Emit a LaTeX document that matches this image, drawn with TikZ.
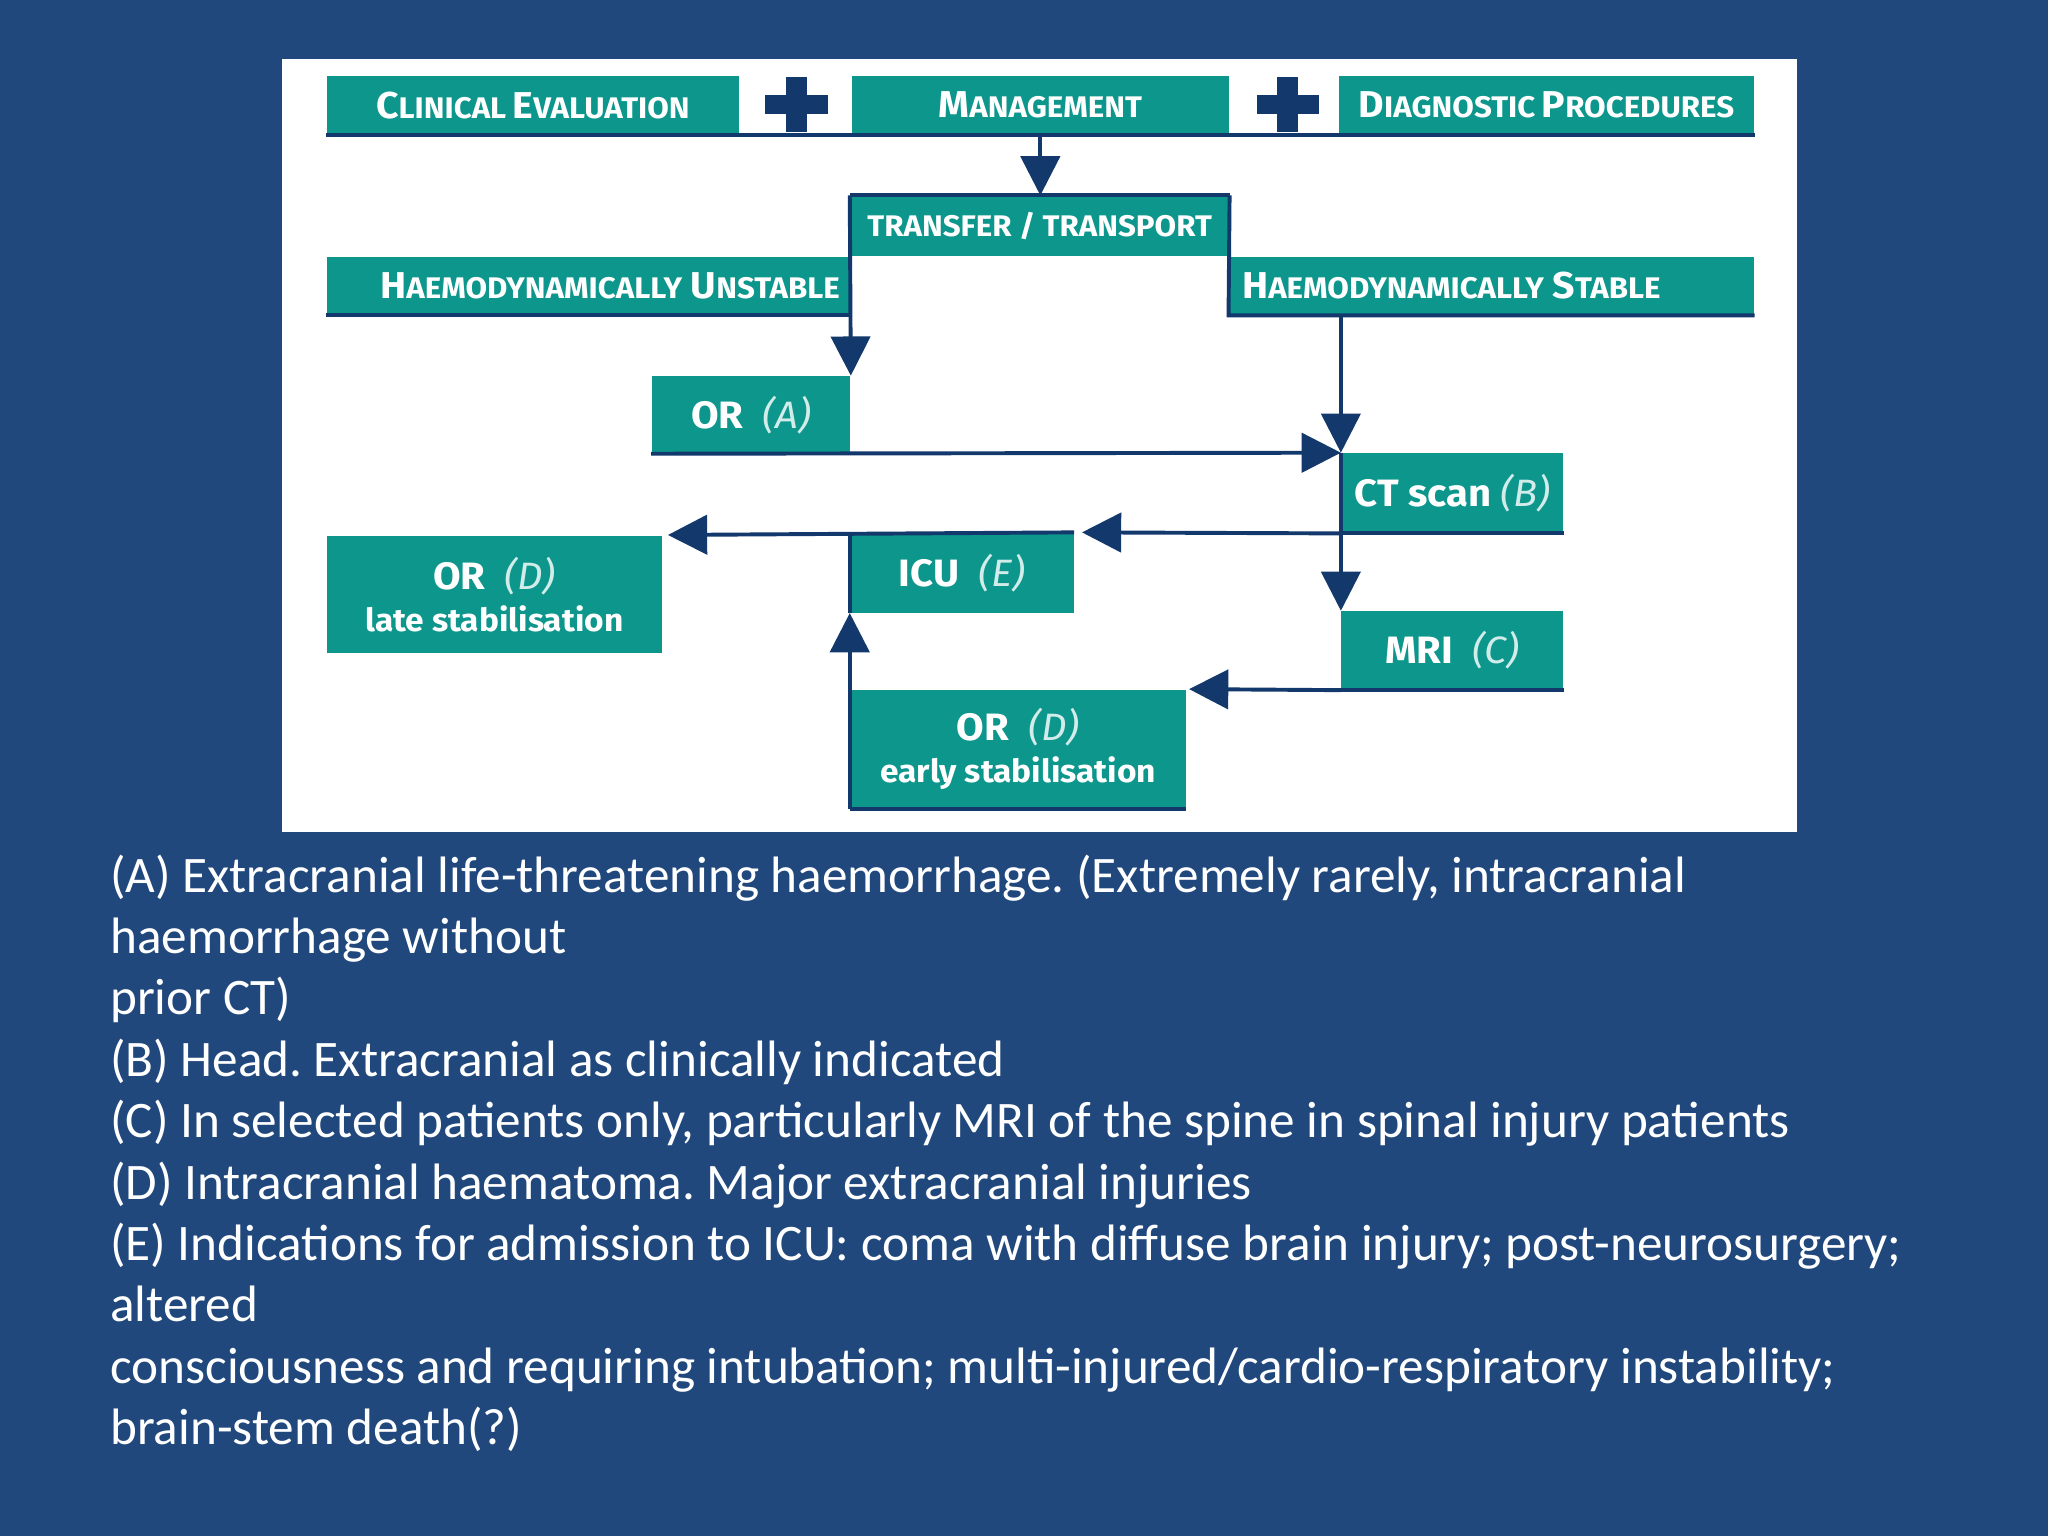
\documentclass[tikz,border=0pt]{standalone}
\usepackage{fontspec}
\setmainfont{Carlito}
\newfontfamily\boxfont[FakeStretch=1.05]{Fira Sans}
\usetikzlibrary{arrows.meta}
\definecolor{bgblue}{RGB}{32,72,124}
\definecolor{tealbox}{RGB}{12,150,140}
\definecolor{navy}{RGB}{18,56,108}
\definecolor{ltxt}{RGB}{210,236,234}
\newcommand\SC[2]{{\fontsize{14.3}{16}\selectfont #1}{\fontsize{11.4}{16}\selectfont #2}}
\newcommand\SCs[1]{{\fontsize{11.4}{16}\selectfont #1}}
\newcommand\ital[1]{{\mdseries\itshape\color{ltxt}#1}}
\newcommand\bigtxt[1]{{\fontsize{14.6}{16}\selectfont #1}}
\newcommand\subtxt[1]{{\fontsize{12.2}{16}\selectfont #1}}
\begin{document}
\frenchspacing
\begin{tikzpicture}[x=0.5pt,y=-0.5pt,
  box/.style={fill=tealbox, draw=none, inner sep=0pt, text=white, font=\boxfont\bfseries, align=center},
  edgeline/.style={draw=navy, line width=1.5pt},
  arr/.style={draw=navy, line width=1.5pt, -{Triangle[length=15pt,width=15pt]}},
  plusbar/.style={fill=navy}]
\fill[bgblue] (0,0) rectangle (1568,1176);
\useasboundingbox (0,0) rectangle (1568,1176);
\fill[white] (216,45) rectangle (1376,637);

% top row
\node[box, minimum width=158pt, minimum height=22.5pt] (ce) at (408,80.5) {\SC{C}{LINICAL} \SC{E}{VALUATION}};
\node[box, minimum width=144.5pt, minimum height=22.5pt] (mg) at (796.5,80.5) {\SC{M}{ANAGEMENT}};
\node[box, minimum width=159pt, minimum height=22.5pt] (dp) at (1184,80.5) {\SC{D}{IAGNOSTIC} \SC{P}{ROCEDURES}};
% plus signs
\fill[plusbar] (602,59) rectangle (618,101);
\fill[plusbar] (586,72.5) rectangle (634,87.5);
\fill[plusbar] (978,59) rectangle (994,101);
\fill[plusbar] (962,72.5) rectangle (1010,87.5);

\node[box, minimum width=145pt, minimum height=23pt] (tt) at (796,173) {\SCs{TRANSFER / TRANSPORT}};
\node[box, minimum height=22pt, text width=192.5pt, inner xsep=4pt, align=right] (hu) at (450.5,219) {\SC{H}{AEMODYNAMICALLY} \SC{U}{NSTABLE}};
\node[box, minimum height=22pt, text width=191pt, inner xsep=5pt, align=left] (hs) at (1142,219) {\SC{H}{AEMODYNAMICALLY} \SC{S}{TABLE}};

\node[box, minimum width=76pt, minimum height=29.5pt] (ora) at (575,317.5) {\bigtxt{OR~~\ital{(A)}}};
\node[box, minimum width=85pt, minimum height=30.5pt] (ct) at (1112,377.5) {\bigtxt{CT scan \ital{(B)}}};
\node[box, minimum width=85.5pt, minimum height=30.5pt] (icu) at (736.5,438.5) {\bigtxt{ICU~~\ital{(E)}}};
\node[box, minimum width=128.5pt, minimum height=45pt] (ordl) at (378.5,455) {\bigtxt{OR~~\ital{(D)}}\\[3pt]\subtxt{late stabilisation}};
\node[box, minimum width=85pt, minimum height=30pt] (mri) at (1112,498) {\bigtxt{MRI~~\ital{(C)}}};
\node[box, minimum width=128.5pt, minimum height=45.5pt] (orde) at (779.5,573.5) {\bigtxt{OR~~\ital{(D)}}\\[3pt]\subtxt{early stabilisation}};

% box edges
\draw[edgeline] (ce.south west) -- (dp.south east);
\draw[edgeline] (tt.north west) -- (tt.north east);
\draw[edgeline] (hu.south west) -- (hu.south east);
\draw[edgeline] (tt.north east) -- (hs.south west) -- (hs.south east);
\draw[edgeline] (ct.south east) -- (ct.south west);
\draw[edgeline] (mri.south east) -- (mri.south west);
\draw[edgeline] (icu.north west) -- (icu.south west);
\draw[edgeline] (orde.south west) -- (orde.south east);

% connectors
\draw[arr] (mg.south) -- (mg.south |- tt.north);
\draw[arr] (tt.north west) -- (ora.north east);
\draw[arr] (ct.north west |- hs.south) -- (ct.north west);
\draw[arr] (ora.south west) -- (ct.north west);
\draw[arr] (ct.north west) -- (mri.north west);
\draw[arr] (ct.south west) -- ([xshift=3pt]icu.north east);
\draw[arr] (icu.north east) -- ([xshift=2pt]ordl.north east);
\draw[arr] (mri.south west) -- ([xshift=1pt]orde.north east);
\draw[arr] (orde.south west) -- (icu.south west);

% notes
\node[anchor=north west, text=white, align=left, inner sep=0pt, font=\fontsize{19.6}{23.5}\selectfont] (notes) at (84,654) {%
(A) Extracranial life-threatening haemorrhage. (Extremely rarely, intracranial\\
haemorrhage without\\
prior CT)\\
(B) Head. Extracranial as clinically indicated\\
(C) In selected patients only, particularly MRI of the spine in spinal injury patients\\
(D) Intracranial haematoma. Major extracranial injuries\\
(E) Indications for admission to ICU: coma with diffuse brain injury; post-neurosurgery;\\
altered\\
consciousness and requiring intubation; multi-injured/cardio-respiratory instability;\\
brain-stem death(?)};
\end{tikzpicture}
\end{document}
